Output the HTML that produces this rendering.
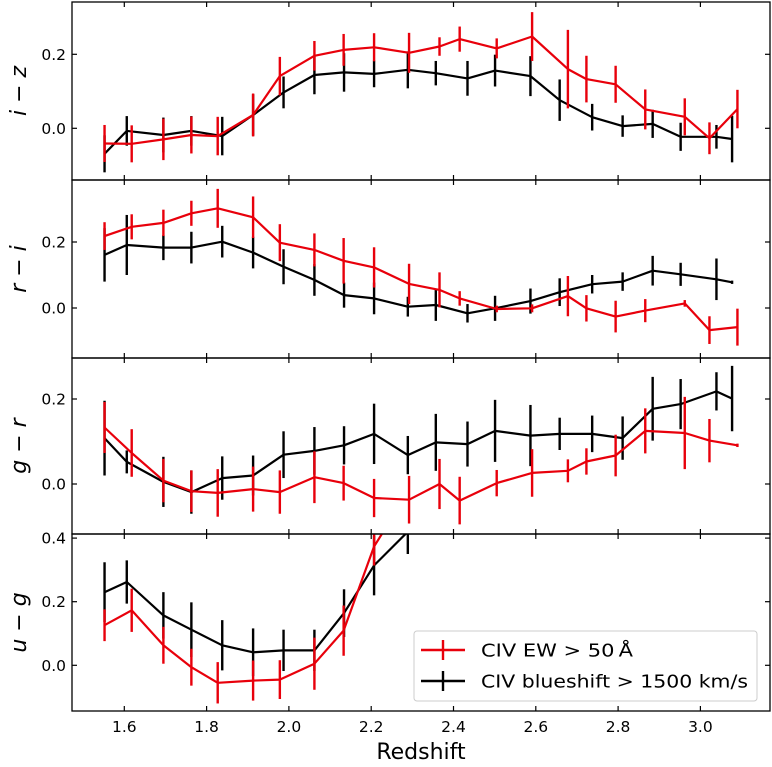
<!DOCTYPE html>
<html><head><meta charset="utf-8">
<style>
html,body{margin:0;padding:0;background:#fff;}
svg{display:block;font-family:"DejaVu Sans","Liberation Sans",sans-serif;}
</style></head>
<body>
<svg id="chart" width="772" height="767" viewBox="0 0 772 767" xmlns="http://www.w3.org/2000/svg"></svg>
<script>
// ---- data ----
const zRed = [1.552,1.618,1.695,1.763,1.827,1.913,1.978,2.062,2.133,2.207,2.292,2.366,2.415,2.505,2.591,2.678,2.723,2.794,2.866,2.962,3.022,3.090];
const zBlack = [1.552,1.606,1.695,1.763,1.838,1.913,1.987,2.062,2.134,2.207,2.289,2.357,2.434,2.501,2.587,2.658,2.737,2.811,2.884,2.952,3.039,3.077];

const izRed = [-0.041,-0.042,-0.030,-0.018,-0.021,0.036,0.141,0.196,0.212,0.219,0.204,0.221,0.241,0.216,0.248,0.160,0.133,0.119,0.051,0.031,-0.027,0.052];
const izRedErr = [0.05,0.05,0.056,0.05,0.052,0.058,0.052,0.04,0.043,0.038,0.054,0.025,0.034,0.027,0.066,0.106,0.063,0.05,0.054,0.05,0.043,0.052];
const izBlack = [-0.069,-0.007,-0.018,-0.007,-0.021,0.036,0.097,0.144,0.151,0.147,0.158,0.149,0.135,0.156,0.141,0.076,0.030,0.006,0.012,-0.023,-0.023,-0.029];
const izBlackErr = [0.05,0.04,0.047,0.04,0.052,0.056,0.043,0.052,0.052,0.036,0.05,0.033,0.047,0.043,0.054,0.056,0.036,0.029,0.038,0.038,0.032,0.063];

const riRed = [0.218,0.246,0.258,0.287,0.302,0.275,0.198,0.176,0.143,0.123,0.073,0.055,0.029,-0.003,-0.001,0.036,-0.001,-0.026,-0.008,0.014,-0.067,-0.058];
const riRedErr = [0.042,0.038,0.04,0.038,0.059,0.063,0.056,0.05,0.069,0.061,0.061,0.053,0.022,0.01,0.012,0.061,0.04,0.048,0.035,0.01,0.042,0.056];
const riBlack = [0.161,0.191,0.183,0.183,0.201,0.168,0.125,0.085,0.039,0.029,0.004,0.009,-0.016,-0.001,0.021,0.048,0.072,0.080,0.113,0.102,0.087,0.078];
const riBlackErr = [0.081,0.091,0.038,0.048,0.048,0.048,0.053,0.048,0.038,0.048,0.03,0.048,0.028,0.038,0.038,0.042,0.028,0.028,0.045,0.035,0.063,0.005];

const grRed = [0.133,0.073,0.008,-0.017,-0.021,-0.012,-0.019,0.016,0.002,-0.033,-0.037,0.000,-0.039,0.002,0.026,0.031,0.053,0.067,0.125,0.120,0.102,0.091];
const grRedErr = [0.06,0.056,0.051,0.049,0.056,0.053,0.051,0.061,0.041,0.045,0.056,0.059,0.056,0.031,0.056,0.027,0.031,0.049,0.053,0.085,0.051,0.004];
const grBlack = [0.108,0.052,0.005,-0.019,0.014,0.020,0.069,0.078,0.091,0.118,0.068,0.098,0.094,0.125,0.114,0.118,0.118,0.108,0.177,0.188,0.218,0.201];
const grBlackErr = [0.088,0.027,0.059,0.051,0.051,0.047,0.055,0.056,0.045,0.071,0.045,0.067,0.053,0.073,0.072,0.038,0.043,0.051,0.075,0.059,0.045,0.077];

const ugRed = [0.126,0.173,0.063,-0.006,-0.055,-0.048,-0.045,0.005,0.109,0.374,0.55,0.65,0.7,0.75,0.8,0.8,0.8,0.8,0.8,0.8,0.8,0.8];
const ugRedErr = [0.05,0.068,0.058,0.058,0.065,0.063,0.061,0.082,0.079,0.06,0.06,0.06,0.06,0.06,0.06,0.06,0.06,0.06,0.06,0.06,0.06,0.06];
const ugBlack = [0.230,0.262,0.157,0.112,0.063,0.041,0.047,0.047,0.164,0.314,0.42,0.5,0.55,0.6,0.65,0.7,0.7,0.7,0.7,0.7,0.7,0.7];
const ugBlackErr = [0.094,0.068,0.073,0.086,0.079,0.075,0.065,0.065,0.075,0.094,0.07,0.07,0.07,0.07,0.07,0.07,0.07,0.07,0.07,0.07,0.07,0.07];

const xTicks = [1.6,1.8,2.0,2.2,2.4,2.6,2.8,3.0];
const xTickLabels = ["1.6","1.8","2.0","2.2","2.4","2.6","2.8","3.0"];

// ---- layout ----
const NS = "http://www.w3.org/2000/svg";
const svg = document.getElementById("chart");
const L = 72, R = 770;
function xs(z){ return 124.3 + (z - 1.6) * 411.5; }

const panels = [
  {name:"i-z", lab:["i","z"], top:2, bot:180, y0:128.3, ppu:370, ticks:[0.0,0.2], tl:["0.0","0.2"], red:izRed, redE:izRedErr, blk:izBlack, blkE:izBlackErr},
  {name:"r-i", lab:["r","i"], top:180, bot:358, y0:308, ppu:330, ticks:[0.0,0.2], tl:["0.0","0.2"], red:riRed, redE:riRedErr, blk:riBlack, blkE:riBlackErr},
  {name:"g-r", lab:["g","r"], top:358, bot:534, y0:484, ppu:425, ticks:[0.0,0.2], tl:["0.0","0.2"], red:grRed, redE:grRedErr, blk:grBlack, blkE:grBlackErr},
  {name:"u-g", lab:["u","g"], top:534, bot:711, y0:665.3, ppu:318, ticks:[0.0,0.2,0.4], tl:["0.0","0.2","0.4"], red:ugRed, redE:ugRedErr, blk:ugBlack, blkE:ugBlackErr}
];

function el(tag, attrs, parent){
  const e = document.createElementNS(NS, tag);
  for (const k in attrs) e.setAttribute(k, attrs[k]);
  (parent || svg).appendChild(e);
  return e;
}

const defs = el("defs", {});
panels.forEach((p, i) => {
  const cp = el("clipPath", {id:"clip"+i}, defs);
  el("rect", {x:L, y:p.top, width:R-L, height:p.bot-p.top}, cp);

  const g = el("g", {});
  
  
  const ys = v => p.y0 - v * p.ppu;

  [["black", p.blk, p.blkE, zBlack, "#000"], ["red", p.red, p.redE, zRed, "#e8000b"]].forEach(s => {
    const sg = el("g", {"clip-path":"url(#clip"+i+")"}, g);
    
    
    const pts = s[1].map((v, k) => xs(s[3][k]).toFixed(1) + "," + ys(v).toFixed(1)).join(" ");
    const line = el("polyline", {points:pts, fill:"none", stroke:s[4], "stroke-width":2.2, "stroke-linejoin":"round"}, sg);
    
    
    s[1].forEach((v, k) => {
      const x = xs(s[3][k]);
      const eb = el("line", {x1:x, x2:x, y1:ys(v - s[2][k]), y2:ys(v + s[2][k]), stroke:s[4], "stroke-width":2.4}, sg);
      
      
    });
  });

  const fr = el("rect", {x:L, y:p.top, width:R-L, height:p.bot-p.top, fill:"none", stroke:"#000", "stroke-width":1.3}, g);
  
  

  xTicks.forEach(t => {
    const x = xs(t);
    el("line", {x1:x, x2:x, y1:p.bot, y2:p.bot-5, stroke:"#000", "stroke-width":1.2}, g);
    el("line", {x1:x, x2:x, y1:p.top, y2:p.top+5, stroke:"#000", "stroke-width":1.2}, g);
  });
  p.ticks.forEach((t, k) => {
    const y = ys(t);
    el("line", {x1:L, x2:L+5, y1:y, y2:y, stroke:"#000", "stroke-width":1.2}, g);
    el("line", {x1:R, x2:R-5, y1:y, y2:y, stroke:"#000", "stroke-width":1.2}, g);
    const tx = el("text", {x:L-6, y:y+5.5, "text-anchor":"end", "font-size":15.5, fill:"#000"}, g);
    tx.textContent = p.tl[k];
    
    
  });
  const cy = (p.top + p.bot) / 2;
  const yl = el("text", {x:0, y:0, "text-anchor":"middle", "font-size":22, fill:"#000", transform:"translate(26,"+cy+") rotate(-90)"}, g);
  
  
  const t1 = el("tspan", {"font-style":"italic"}, yl); t1.textContent = p.lab[0];
  const t2 = el("tspan", {}, yl); t2.textContent = " \u2212 ";
  const t3 = el("tspan", {"font-style":"italic"}, yl); t3.textContent = p.lab[1];
});

xTicks.forEach((t, k) => {
  const tx = el("text", {x:xs(t), y:732, "text-anchor":"middle", "font-size":15.5, fill:"#000"});
  tx.textContent = xTickLabels[k];
  
  
});
const xt = el("text", {x:421, y:759, "text-anchor":"middle", "font-size":22, fill:"#000"});
xt.textContent = "Redshift";



const lg = el("g", {});


el("rect", {x:414, y:631, width:343, height:70, rx:3, fill:"#fff", "fill-opacity":0.85, stroke:"#ccc", "stroke-width":1}, lg);
[["#e8000b","CIV EW > 50\u2009\u00c5",650,"legend-entry-ew"],["#000","CIV blueshift > 1500 km/s",681,"legend-entry-blueshift"]].forEach(e => {
  const eg = el("g", {}, lg);
  
  
  el("line", {x1:421, x2:465, y1:e[2], y2:e[2], stroke:e[0], "stroke-width":2.4}, eg);
  el("line", {x1:443, x2:443, y1:e[2]-10, y2:e[2]+10, stroke:e[0], "stroke-width":2.4}, eg);
  const tx = el("text", {x:481, y:e[2]+6.5, "font-size":18, fill:"#000", textLength:267, lengthAdjust:"spacingAndGlyphs"}, eg);
  if (e[3] === "legend-entry-ew") tx.setAttribute("textLength", 152);
  tx.textContent = e[1];
});
</script>
</body></html>
